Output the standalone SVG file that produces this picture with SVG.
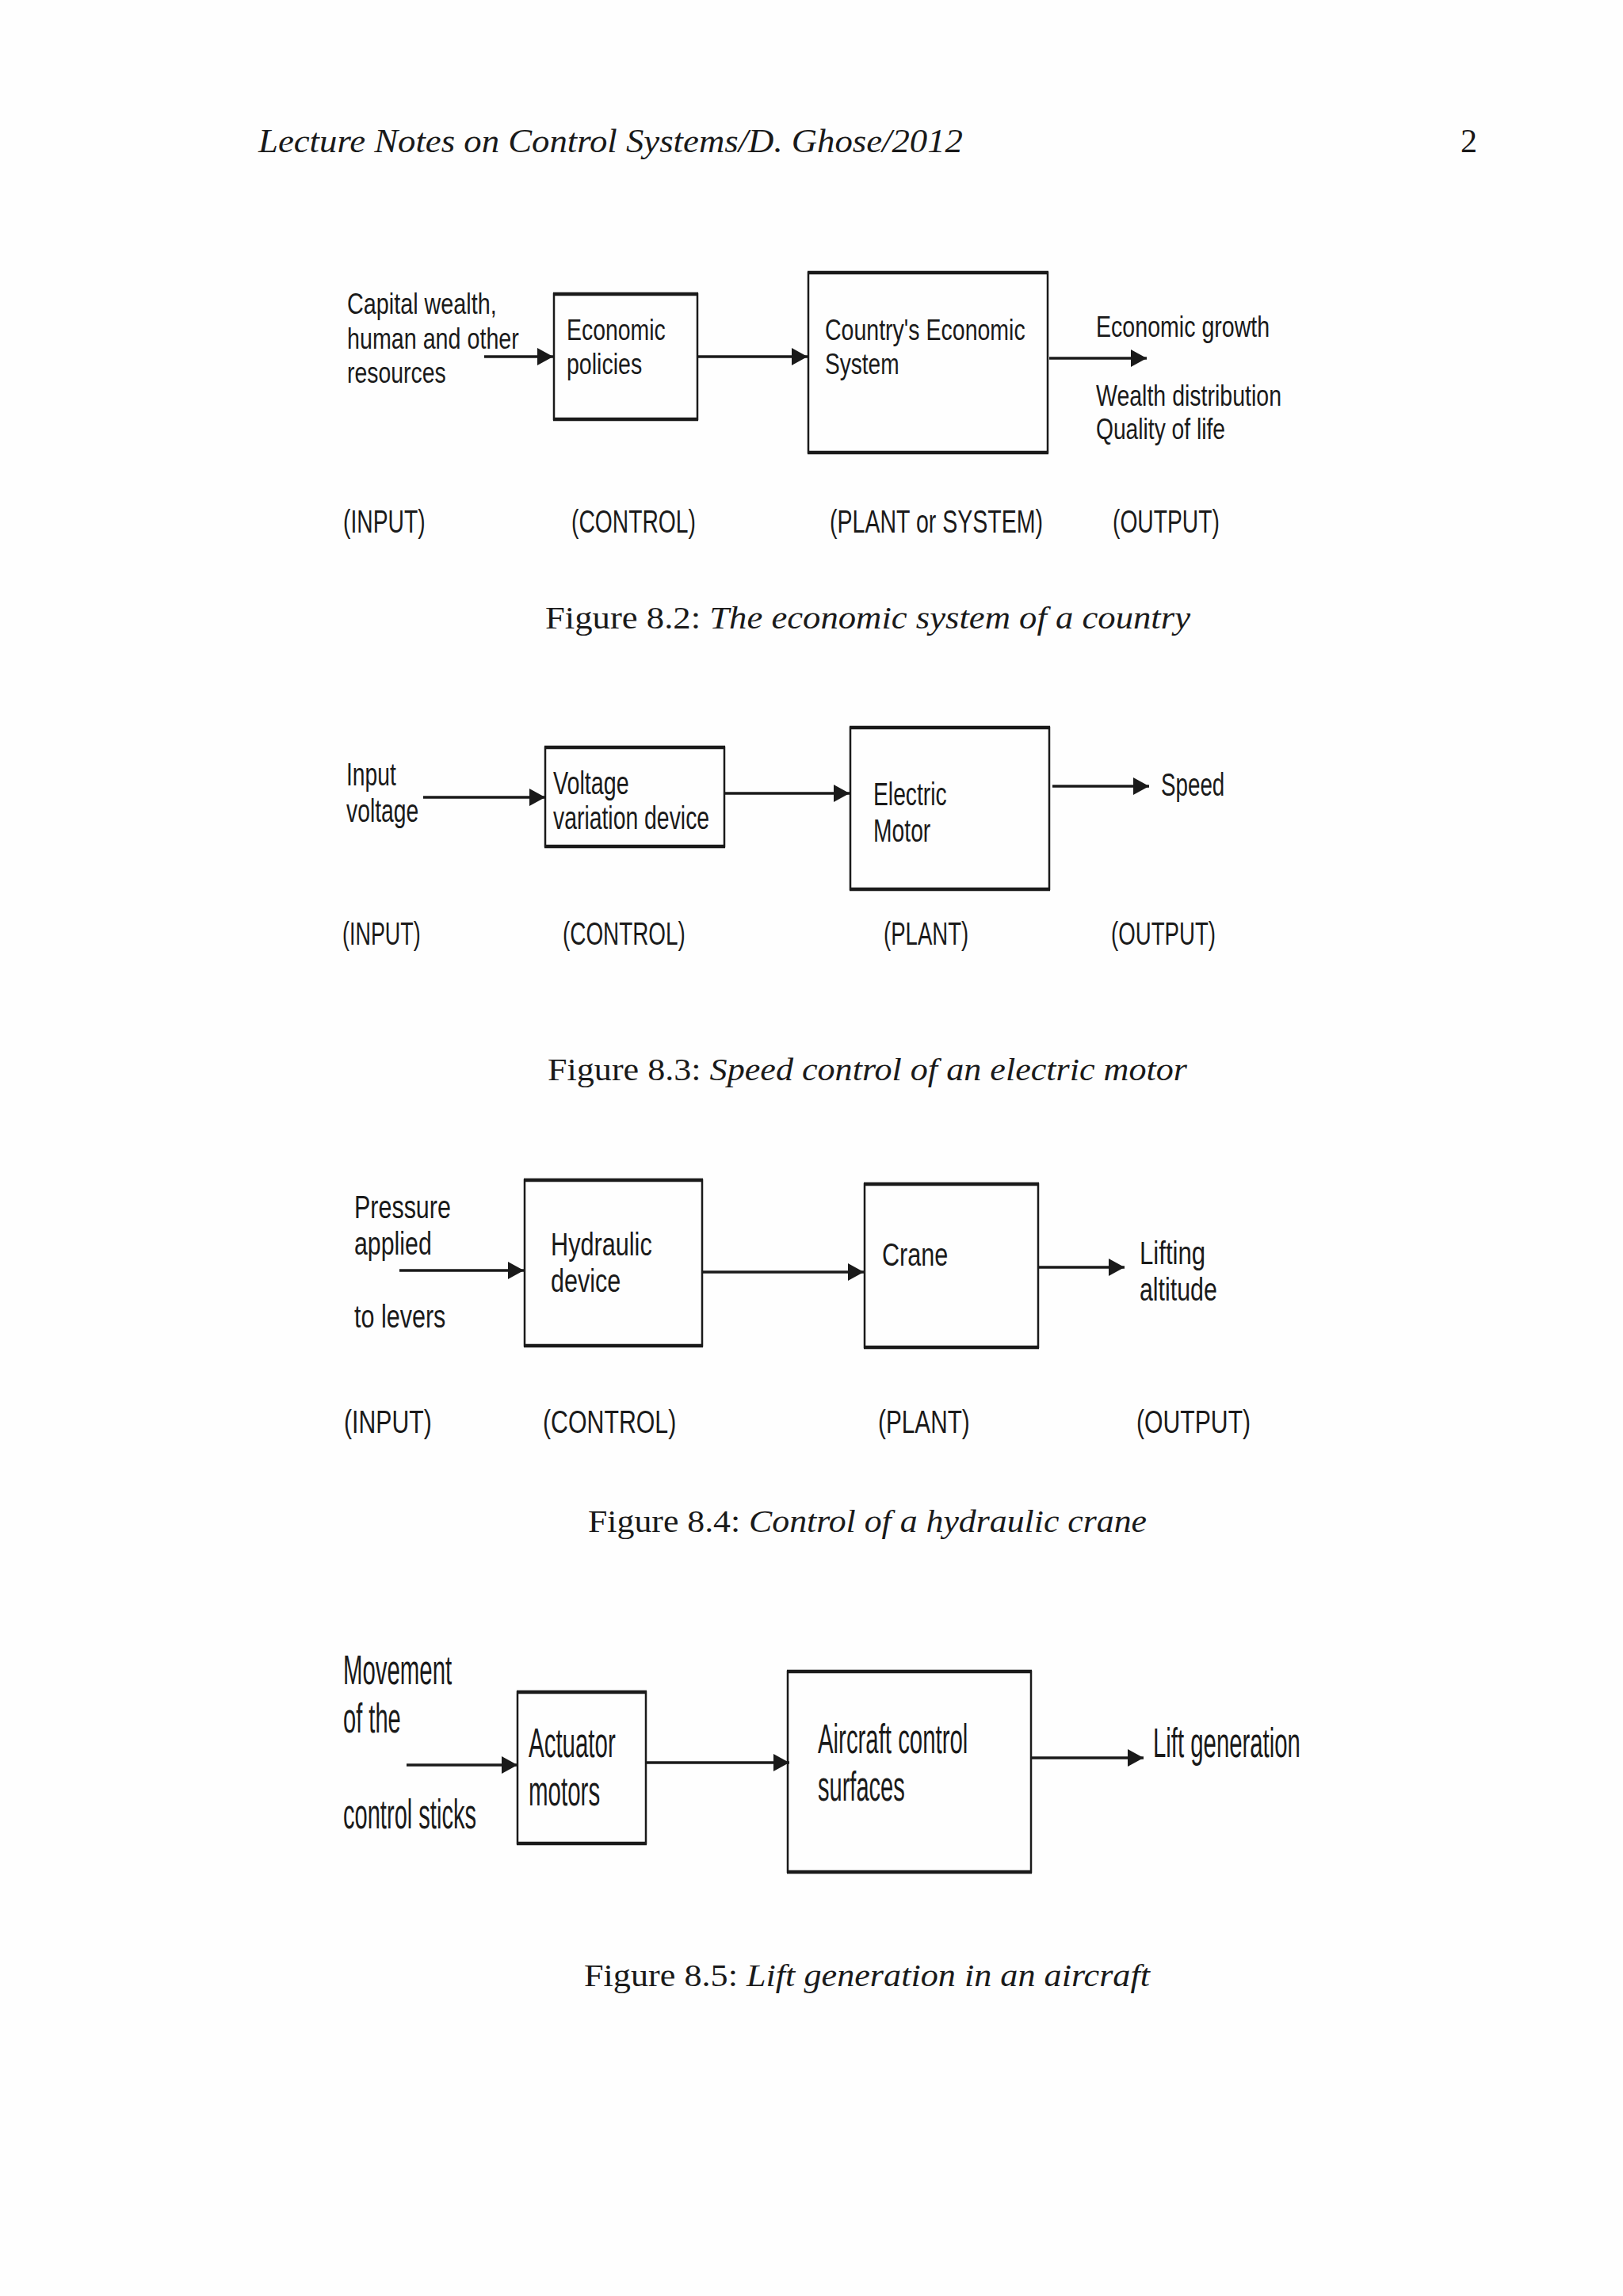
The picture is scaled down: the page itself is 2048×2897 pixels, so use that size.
<svg xmlns="http://www.w3.org/2000/svg" width="2048" height="2897" viewBox="0 0 2048 2897">
<style>
.t{font-family:"Liberation Sans",Arial,sans-serif;fill:#1a1a1a}
.s37{font-size:37px}.s40{font-size:40px}.s52{font-size:52px}
.cap{font-family:"Liberation Serif","Times New Roman",serif;font-size:40px;fill:#1a1a1a}
.hd{font-family:"Liberation Serif","Times New Roman",serif;font-size:42px;font-style:italic;fill:#1a1a1a}
.box{fill:none;stroke:#1a1a1a;stroke-width:2.5}
.edge{stroke:#1a1a1a;stroke-width:4.5}
.arr{stroke:#1a1a1a;stroke-width:3.5;fill:none;marker-end:url(#ah)}
</style>
<defs>
<marker id="ah" markerUnits="userSpaceOnUse" markerWidth="20" markerHeight="22" refX="20" refY="11" orient="auto">
<path d="M0,0 L20,11 L0,22 z" fill="#1a1a1a"/>
</marker>
</defs>
<rect width="2048" height="2897" fill="#fefefe"/>

<g id="header">
<text class="hd" x="326" y="192" textLength="889" lengthAdjust="spacingAndGlyphs">Lecture Notes on Control Systems/D. Ghose/2012</text>
<text class="cap" x="1843" y="192" style="font-size:42px">2</text>
</g>

<!-- Figure 8.2 -->
<g id="fig82">
<g id="f82-input">
<text class="t s37" transform="translate(438 396) scale(0.78 1)" textLength="242" lengthAdjust="spacingAndGlyphs">Capital wealth,</text>
<text class="t s37" transform="translate(438 440) scale(0.78 1)" textLength="278" lengthAdjust="spacingAndGlyphs">human and other</text>
<text class="t s37" transform="translate(438 483) scale(0.78 1)" textLength="160" lengthAdjust="spacingAndGlyphs">resources</text>
</g>
<g id="f82-control">
<rect class="box" x="699" y="371" width="181" height="158"/>
<line class="edge" x1="698" y1="371" x2="881" y2="371"/><line class="edge" x1="698" y1="529" x2="881" y2="529"/>
<text class="t s37" transform="translate(715 429) scale(0.78 1)" textLength="160" lengthAdjust="spacingAndGlyphs">Economic</text>
<text class="t s37" transform="translate(715 472) scale(0.78 1)" textLength="122" lengthAdjust="spacingAndGlyphs">policies</text>
</g>
<g id="f82-plant">
<rect class="box" x="1020" y="344" width="302" height="227"/>
<line class="edge" x1="1019" y1="344" x2="1323" y2="344"/><line class="edge" x1="1019" y1="571" x2="1323" y2="571"/>
<text class="t s37" transform="translate(1041 429) scale(0.78 1)" textLength="324" lengthAdjust="spacingAndGlyphs">Country's Economic</text>
<text class="t s37" transform="translate(1041 472) scale(0.78 1)" textLength="120" lengthAdjust="spacingAndGlyphs">System</text>
</g>
<g id="f82-output">
<text class="t s37" transform="translate(1383 425) scale(0.78 1)" textLength="281" lengthAdjust="spacingAndGlyphs">Economic growth</text>
<text class="t s37" transform="translate(1383 512) scale(0.78 1)" textLength="300" lengthAdjust="spacingAndGlyphs">Wealth distribution</text>
<text class="t s37" transform="translate(1383 554) scale(0.78 1)" textLength="209" lengthAdjust="spacingAndGlyphs">Quality of life</text>
</g>
<g id="f82-labels">
<text class="t s40" transform="translate(433 672) scale(0.71 1)" textLength="146" lengthAdjust="spacingAndGlyphs">(INPUT)</text>
<text class="t s40" transform="translate(721 672) scale(0.71 1)" textLength="221" lengthAdjust="spacingAndGlyphs">(CONTROL)</text>
<text class="t s40" transform="translate(1047 672) scale(0.71 1)" textLength="379" lengthAdjust="spacingAndGlyphs">(PLANT or SYSTEM)</text>
<text class="t s40" transform="translate(1404 672) scale(0.71 1)" textLength="190" lengthAdjust="spacingAndGlyphs">(OUTPUT)</text>
</g>
<text class="cap" x="688" y="793" textLength="814" lengthAdjust="spacingAndGlyphs">Figure 8.2:  <tspan font-style="italic">The economic system of a country</tspan></text>
</g>

<!-- Figure 8.3 -->
<g id="fig83">
<g id="f83-input">
<text class="t s40" transform="translate(437 991) scale(0.73 1)" textLength="86" lengthAdjust="spacingAndGlyphs">Input</text>
<text class="t s40" transform="translate(437 1037) scale(0.73 1)" textLength="125" lengthAdjust="spacingAndGlyphs">voltage</text>
</g>
<g id="f83-control">
<rect class="box" x="688" y="943" width="226" height="125"/>
<line class="edge" x1="687" y1="943" x2="915" y2="943"/><line class="edge" x1="687" y1="1068" x2="915" y2="1068"/>
<text class="t s40" transform="translate(698 1002) scale(0.73 1)" textLength="131" lengthAdjust="spacingAndGlyphs">Voltage</text>
<text class="t s40" transform="translate(698 1046) scale(0.73 1)" textLength="270" lengthAdjust="spacingAndGlyphs">variation device</text>
</g>
<g id="f83-plant">
<rect class="box" x="1073" y="918" width="251" height="204"/>
<line class="edge" x1="1072" y1="918" x2="1325" y2="918"/><line class="edge" x1="1072" y1="1122" x2="1325" y2="1122"/>
<text class="t s40" transform="translate(1102 1016) scale(0.73 1)" textLength="127" lengthAdjust="spacingAndGlyphs">Electric</text>
<text class="t s40" transform="translate(1102 1062) scale(0.73 1)" textLength="99" lengthAdjust="spacingAndGlyphs">Motor</text>
</g>
<g id="f83-output">
<text class="t s40" transform="translate(1465 1004) scale(0.73 1)" textLength="110" lengthAdjust="spacingAndGlyphs">Speed</text>
</g>
<g id="f83-labels">
<text class="t s40" transform="translate(432 1192) scale(0.71 1)" textLength="139" lengthAdjust="spacingAndGlyphs">(INPUT)</text>
<text class="t s40" transform="translate(710 1192) scale(0.71 1)" textLength="218" lengthAdjust="spacingAndGlyphs">(CONTROL)</text>
<text class="t s40" transform="translate(1115 1192) scale(0.71 1)" textLength="151" lengthAdjust="spacingAndGlyphs">(PLANT)</text>
<text class="t s40" transform="translate(1402 1192) scale(0.71 1)" textLength="186" lengthAdjust="spacingAndGlyphs">(OUTPUT)</text>
</g>
<text class="cap" x="691" y="1363" textLength="807" lengthAdjust="spacingAndGlyphs">Figure 8.3:  <tspan font-style="italic">Speed control of an electric motor</tspan></text>
</g>

<!-- Figure 8.4 -->
<g id="fig84">
<g id="f84-input">
<text class="t s40" transform="translate(447 1537) scale(0.73 1)" textLength="167" lengthAdjust="spacingAndGlyphs">Pressure</text>
<text class="t s40" transform="translate(447 1583) scale(0.73 1)" textLength="134" lengthAdjust="spacingAndGlyphs">applied</text>
<text class="t s40" transform="translate(447 1675) scale(0.73 1)" textLength="158" lengthAdjust="spacingAndGlyphs">to levers</text>
</g>
<g id="f84-control">
<rect class="box" x="662" y="1489" width="224" height="209"/>
<line class="edge" x1="661" y1="1489" x2="887" y2="1489"/><line class="edge" x1="661" y1="1698" x2="887" y2="1698"/>
<text class="t s40" transform="translate(695 1584) scale(0.73 1)" textLength="175" lengthAdjust="spacingAndGlyphs">Hydraulic</text>
<text class="t s40" transform="translate(695 1630) scale(0.73 1)" textLength="121" lengthAdjust="spacingAndGlyphs">device</text>
</g>
<g id="f84-plant">
<rect class="box" x="1091" y="1494" width="219" height="206"/>
<line class="edge" x1="1090" y1="1494" x2="1311" y2="1494"/><line class="edge" x1="1090" y1="1700" x2="1311" y2="1700"/>
<text class="t s40" transform="translate(1113 1597) scale(0.73 1)" textLength="114" lengthAdjust="spacingAndGlyphs">Crane</text>
</g>
<g id="f84-output">
<text class="t s40" transform="translate(1438 1595) scale(0.73 1)" textLength="114" lengthAdjust="spacingAndGlyphs">Lifting</text>
<text class="t s40" transform="translate(1438 1641) scale(0.73 1)" textLength="134" lengthAdjust="spacingAndGlyphs">altitude</text>
</g>
<g id="f84-labels">
<text class="t s40" transform="translate(434 1808) scale(0.71 1)" textLength="156" lengthAdjust="spacingAndGlyphs">(INPUT)</text>
<text class="t s40" transform="translate(685 1808) scale(0.71 1)" textLength="237" lengthAdjust="spacingAndGlyphs">(CONTROL)</text>
<text class="t s40" transform="translate(1108 1808) scale(0.71 1)" textLength="163" lengthAdjust="spacingAndGlyphs">(PLANT)</text>
<text class="t s40" transform="translate(1434 1808) scale(0.71 1)" textLength="203" lengthAdjust="spacingAndGlyphs">(OUTPUT)</text>
</g>
<text class="cap" x="742" y="1933" textLength="705" lengthAdjust="spacingAndGlyphs">Figure 8.4:  <tspan font-style="italic">Control of a hydraulic crane</tspan></text>
</g>

<!-- Figure 8.5 -->
<g id="fig85">
<g id="f85-input">
<text class="t s52" transform="translate(433 2125) scale(0.56 1)" textLength="245" lengthAdjust="spacingAndGlyphs">Movement</text>
<text class="t s52" transform="translate(433 2186) scale(0.56 1)" textLength="130" lengthAdjust="spacingAndGlyphs">of the</text>
<text class="t s52" transform="translate(433 2307) scale(0.56 1)" textLength="300" lengthAdjust="spacingAndGlyphs">control sticks</text>
</g>
<g id="f85-control">
<rect class="box" x="653" y="2135" width="162" height="191"/>
<line class="edge" x1="652" y1="2135" x2="816" y2="2135"/><line class="edge" x1="652" y1="2326" x2="816" y2="2326"/>
<text class="t s52" transform="translate(667 2217) scale(0.56 1)" textLength="196" lengthAdjust="spacingAndGlyphs">Actuator</text>
<text class="t s52" transform="translate(667 2278) scale(0.56 1)" textLength="161" lengthAdjust="spacingAndGlyphs">motors</text>
</g>
<g id="f85-plant">
<rect class="box" x="994" y="2109" width="307" height="253"/>
<line class="edge" x1="993" y1="2109" x2="1302" y2="2109"/><line class="edge" x1="993" y1="2362" x2="1302" y2="2362"/>
<text class="t s52" transform="translate(1032 2212) scale(0.56 1)" textLength="338" lengthAdjust="spacingAndGlyphs">Aircraft control</text>
<text class="t s52" transform="translate(1032 2272) scale(0.56 1)" textLength="196" lengthAdjust="spacingAndGlyphs">surfaces</text>
</g>
<g id="f85-output">
<text class="t s52" transform="translate(1455 2217) scale(0.56 1)" textLength="332" lengthAdjust="spacingAndGlyphs">Lift generation</text>
</g>
<text class="cap" x="737" y="2506" textLength="714" lengthAdjust="spacingAndGlyphs">Figure 8.5:  <tspan font-style="italic">Lift generation in an aircraft</tspan></text>
</g>

<g id="connectors">
<line class="arr" x1="611" y1="450" x2="698" y2="450"/>
<line class="arr" x1="881" y1="450" x2="1019" y2="450"/>
<line class="arr" x1="1324" y1="452" x2="1447" y2="452"/>

<line class="arr" x1="534" y1="1006" x2="688" y2="1006"/>
<line class="arr" x1="915" y1="1001" x2="1072" y2="1001"/>
<line class="arr" x1="1328" y1="992" x2="1450" y2="992"/>

<line class="arr" x1="504" y1="1603" x2="661" y2="1603"/>
<line class="arr" x1="887" y1="1605" x2="1090" y2="1605"/>
<line class="arr" x1="1311" y1="1599" x2="1419" y2="1599"/>

<line class="arr" x1="513" y1="2227" x2="653" y2="2227"/>
<line class="arr" x1="816" y1="2224" x2="996" y2="2224"/>
<line class="arr" x1="1302" y1="2218" x2="1443" y2="2218"/>
</g>
</svg>
